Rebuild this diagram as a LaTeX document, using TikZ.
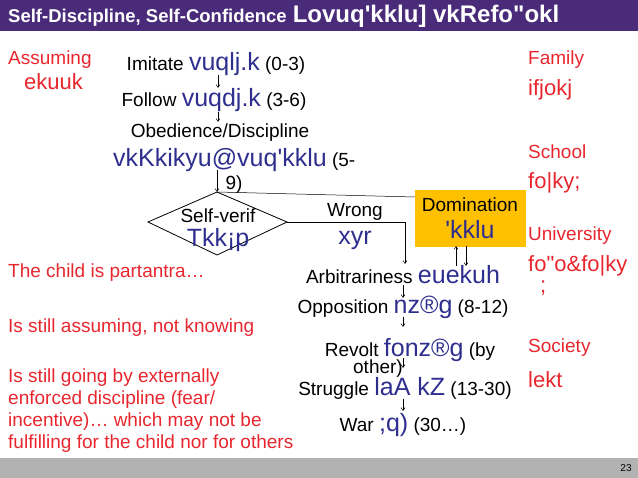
\documentclass[tikz,border=0pt]{standalone}
\usepackage{fontspec}
\setmainfont{Liberation Sans}
\newfontfamily\kd{Liberation Sans}
\usetikzlibrary{arrows.meta}
\definecolor{hdr}{HTML}{4A2B7A}
\definecolor{bl}{HTML}{2E2E8F}
\definecolor{rd}{HTML}{E8262E}
\definecolor{org}{HTML}{FFC000}
\begin{document}
\begin{tikzpicture}[x=1pt,y=-1pt,
  txt/.style={inner sep=0pt,font=\fontsize{19}{21}\selectfont},
  rt/.style={txt,anchor=west,text=rd},
  rb/.style={inner sep=0pt,anchor=west,text=rd,font=\kd\fontsize{22}{24}\selectfont},
  arr/.style={-{Straight Barb[length=3pt,width=4pt]},line width=0.5pt}]
\newcommand{\B}[1]{{\kd\color{bl}\fontsize{25}{27}\selectfont #1}}
\useasboundingbox (0,0) rectangle (638,478);
\fill[hdr] (0,0) rectangle (638,31);
\fill[gray!60] (0,458) rectangle (638,478);
\node[anchor=west,inner sep=0pt,text=white,font=\bfseries] (hd) at (8,16) {{\fontsize{18.5}{21}\selectfont Self-Discipline, Self-Confidence}\hspace{6pt}{\kd\bfseries\fontsize{24}{26}\selectfont Lovuq'kklu] vkRefo"okl}};
\node[inner sep=0pt,font=\fontsize{10}{11}\selectfont] (pg) at (626,468) {23};
% left
\node[rt] (a1) at (8,60) {Assuming};
\node[rb] (a2) at (24,82) {ekuuk};
\node[rt] (l1) at (8,273) {The child is partantra…};
\node[rt] (l2) at (8,328) {Is still assuming, not knowing};
\node[rt] (l3) at (8,378) {Is still going by externally};
\node[rt] (l4) at (8,400) {enforced discipline (fear/};
\node[rt] (l5) at (8,422) {incentive)… which may not be};
\node[rt] (l6) at (8,444) {fulfilling for the child nor for others};
% right
\node[rt] (r1) at (528,60) {Family};
\node[rb] (r2) at (528,90) {ifjokj};
\node[rt] (r3) at (528,152) {School};
\node[rb] (r4) at (528,183) {fo|ky;};
\node[rt] (r5) at (528,236) {University};
\node[rb] (r6) at (528,266) {fo"o\&fo|ky};
\node[rb] (r7) at (540,288) {;};
\node[rt] (r8) at (528,348) {Society};
\node[rb] (r9) at (528,380) {lekt};
% chain
\node[txt] (im) at (216,64) {Imitate \B{vuqlj.k} (0-3)};
\node[txt] (fo) at (214,100) {Follow \B{vuqdj.k} (3-6)};
\node[txt] (ob) at (220,133) {Obedience/Discipline};
\node[txt,anchor=west] (ob2) at (113,160) {\B{vkKkikyu@vuq'kklu} (5-};
\node[txt] (ob3) at (234,185) {9)};
\draw[arr] (218,75) -- (218,88);
\draw[arr] (218,112) -- (218,122);
\coordinate (dt) at (217,192);
\coordinate (dl) at (148,222);
\coordinate (dr) at (287,222);
\coordinate (db) at (217,255);
\draw[line width=0.8pt] (dt) -- (dr) -- (db) -- (dl) -- cycle;
\draw[arr] (217,170) -- (dt);
\node[txt] (sv) at (218,216) {Self-verif};
\node[txt] (tk) at (218,240) {\B{Tkk¡p}};
\node[fill=org,minimum width=111pt,minimum height=57pt,inner sep=0pt] (dom) at (470.5,218.5) {};
\node[txt] (dm1) at (470,205) {Domination};
\node[txt] (dm2) at (470,230) {\B{'kklu}};
\draw[line width=0.5pt] (dom.west|-0,197) -- (dt);
\node[txt] (wr) at (355,212) {Wrong};
\node[txt] (xy) at (355,240) {\B{xyr}};
\node[txt] (ar) at (403,275) {Arbitrariness \B{euekuh}};
\draw[arr] (dr) -- (405,222) -- (405,264);
\draw[arr] (456,266) -- (456,246);
\draw[arr] (466,246) -- (466,266);
\draw[arr] (403,285) -- (403,298);
\node[txt] (op) at (403,307) {Opposition \B{nz®g} (8-12)};
\draw[arr] (403,317) -- (403,327);
\node[txt] (rv) at (410,350) {Revolt \B{fonz®g} (by};
\node[txt] (rv2) at (378,369) {other)};
\draw[arr] (403,358) -- (403,368);
\node[txt] (st) at (405,388) {Struggle \B{laA kZ} (13-30)};
\draw[arr] (403,399) -- (403,411);
\node[txt] (wa) at (403,425) {War \B{;q)} (30…)};
\end{tikzpicture}
\end{document}
